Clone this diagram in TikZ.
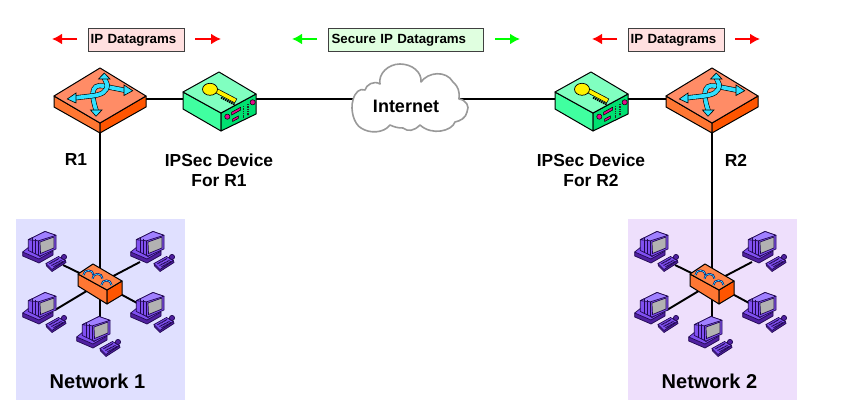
\documentclass[tikz,border=0pt]{standalone}
\usepackage{fontspec}
\setmainfont{Liberation Sans}
\usetikzlibrary{arrows.meta}
\definecolor{routertop}{HTML}{FF8C66}
\definecolor{routerleft}{HTML}{FF7733}
\definecolor{routerright}{HTML}{FF5500}
\definecolor{devtop}{HTML}{80FFC0}
\definecolor{devleft}{HTML}{40FFA0}
\definecolor{devright}{HTML}{00E070}
\definecolor{pcpurple}{HTML}{8050F0}
\definecolor{pcdark}{HTML}{5020A0}
\definecolor{pclight}{HTML}{A080FF}
\definecolor{pcline}{HTML}{200850}
\definecolor{cyanarrow}{HTML}{30E0FF}
\tikzset{
  wire/.style={black,line width=1.9pt},
  face/.style={draw=black,line width=1pt,line join=round},
  pcface/.style={draw=pcline,line width=.7pt,line join=round},
  lbl/.style={font=\bfseries\fontsize{17.4}{20}\selectfont,align=center,inner sep=0pt},
  netlbl/.style={font=\bfseries\fontsize{20}{24}\selectfont,inner sep=0pt},
  tag/.style={font=\bfseries\fontsize{13.3}{16}\selectfont,draw=black!75,line width=1.2pt,inner sep=0pt,anchor=north west},
  redarrow/.style={-{Latex[length=10pt,width=11pt]},line width=2.6pt,red},
  greenarrow/.style={-{Latex[length=10pt,width=11pt]},line width=2.6pt,green},
  pc/.pic={
    % base
    \path[pcface,fill=pcdark] (-.3,21) -- (-.3,25) -- (16,32) -- (30,24) -- (30,20) -- cycle;
    \path[pcface,fill=pcpurple] (-.3,21) -- (6,16) -- (24,15) -- (30,20) -- (16,28) -- cycle;
    % stand
    \path[pcface,fill=pclight] (10,21) -- (17,25.5) -- (26,19.5) -- (26,16) -- (10,17) -- cycle;
    % monitor
    \path[pcface,fill=pcpurple] (5.3,8.7) -- (22,.5) -- (33,4.3) -- (33,18) -- (17,25) -- (5.3,19.5) -- cycle;
    \path[pcface,fill=pclight] (5.3,8.7) -- (22,.5) -- (33,4.3) -- (15.5,9.8) -- cycle;
    \draw[pcline,line width=.7pt] (9.5,6.8) -- (9.5,21.5) (12.5,8.4) -- (12.5,22.8) (15.5,9.8) -- (15.5,24.2);
    \path[draw=pcline,line width=.7pt,fill=black!30] (17,11) -- (31,6) -- (31,17) -- (17.5,22.5) -- cycle;
    % keyboard and mouse
    \path[pcface,fill=pcdark] (23,32.5) -- (23.5,35) -- (29,40.5) -- (43,31.5) -- (42.5,29.5) -- cycle;
    \path[pcface,fill=pcpurple] (23,32.5) -- (35.5,25.5) -- (42.5,29.5) -- (29,38.5) -- cycle;
    \draw[pcline,line width=1.1pt,dash pattern=on 1.2pt off .5pt] (26.5,32.8) -- (36,27.5) (28.5,34.5) -- (38.5,29.3) (30.5,36) -- (40.5,30.2);
    \path[pcface,fill=pcdark] (41,26) circle (2.6);
  },
  routerpic/.pic={
    \path[face,fill=routerleft] (-46,28) -- (-46,39) -- (0,65) -- (0,55) -- cycle;
    \path[face,fill=routerright] (46,28) -- (46,39) -- (0,65) -- (0,55) -- cycle;
    \path[face,fill=routertop] (0,0) -- (46,28) -- (0,55) -- (-46,28) -- cycle;
    % twisted arrows: outline, then cyan body
    \draw[black,line width=5pt] (-3.6,43) .. controls (-6,36) and (-8.5,26) .. (-6,21) .. controls (-4,17) and (0,17) .. (8,19) -- (26,22.5);
    \draw[cyanarrow,line width=3.8pt] (-3.6,43) .. controls (-6,36) and (-8.5,26) .. (-6,21) .. controls (-4,17) and (0,17) .. (8,19) -- (26,22.5);
    \draw[black,line width=5pt] (-26,30) -- (-9,28) .. controls (1,27) and (8,24) .. (7,16) -- (4.3,10);
    \draw[cyanarrow,line width=3.8pt] (-26,30) -- (-9,28) .. controls (1,27) and (8,24) .. (7,16) -- (4.3,10);
    \path[draw=black,line width=.6pt,fill=cyanarrow] (-32.7,31) -- (-24,25) -- (-24,35) -- cycle;
    \path[draw=black,line width=.6pt,fill=cyanarrow] (32.7,22.7) -- (24,17) -- (24,27.5) -- cycle;
    \path[draw=black,line width=.6pt,fill=cyanarrow] (4.3,5) -- (-1.5,11) -- (10,11) -- cycle;
    \path[draw=black,line width=.6pt,fill=cyanarrow] (-4,48.3) -- (-9.5,42) -- (2,42) -- cycle;
  },
  devpic/.pic={
    \path[face,fill=devleft] (-36,20) -- (-36,37) -- (2,59) -- (2,41) -- cycle;
    \path[face,fill=devright] (37,22) -- (37,42) -- (2,59) -- (2,41) -- cycle;
    \path[face,fill=devtop] (0,0) -- (37,22) -- (2,41) -- (-36,20) -- cycle;
    % key
    \draw[black,line width=2pt,dash pattern=on 1.5pt off .8pt] (2,25.5) -- (15.5,32.5);
    \draw[black,line width=5pt] (-4,18) -- (17,29);
    \draw[yellow,line width=3.6pt] (-4,18) -- (16.4,28.7);
    \path[draw=black,line width=.7pt,fill=yellow] (-9,17.3) ellipse (7.5 and 6);
    % panel
    \path[draw=black,line width=.5pt,fill=magenta!90!violet] (8.3,44.7) circle (2.6) (33.7,30.3) circle (2.6);
    \path[draw=black,line width=.5pt,fill=magenta!90!violet] (12.7,40.2) -- (21.7,35.2) -- (21.7,38) -- (12.7,43) -- cycle;
    \path[draw=black,line width=.5pt,fill=magenta!90!violet] (13.7,47) -- (19.3,44) -- (19.3,46.4) -- (13.7,49.4) -- cycle;
    \draw[black!85,line width=1.9pt,dash pattern=on 1.4pt off .9pt] (24.5,34) -- (24.5,46) (29,32) -- (29,43.5);
  },
  swpic/.pic={
    \path[face,fill=routerleft] (-15,10) -- (-15,22) -- (14,40) -- (14,26) -- cycle;
    \path[face,fill=routerright] (29,17) -- (29,31) -- (14,40) -- (14,26) -- cycle;
    \path[face,fill=routerleft!90!white] (0,0) -- (29,17) -- (14,26) -- (-15,10) -- cycle;
    \foreach \ux/\uy in {-4.5/9.5,4.5/13,13.5/19.5}{
      \draw[black!60!blue,line width=1.9pt] (\ux-5,\uy+1.5) .. controls (\ux-5,\uy-4.5) and (\ux+5,\uy-4.5) .. (\ux+5,\uy+1.5);
      \draw[cyanarrow,line width=.7pt] (\ux-5,\uy+1.5) .. controls (\ux-5,\uy-4.5) and (\ux+5,\uy-4.5) .. (\ux+5,\uy+1.5);
    }
  },
}
\newcommand{\lannet}[3]{% prefix, label, panel colour
  \fill[#3] (16,219) rectangle (185,400);
  \coordinate (#1sw) at (100,283);
  \coordinate (#1pca) at (63,265);
  \coordinate (#1pcb) at (140,262);
  \coordinate (#1pcc) at (55,310);
  \coordinate (#1pcd) at (137,303);
  \coordinate (#1pce) at (100,322);
  \foreach \p in {a,b,c,d,e}{\draw[wire] (#1sw) -- (#1pc\p);}
  \pic at (23,231) {pc};
  \pic at (131,231) {pc};
  \pic at (23,292) {pc};
  \pic at (131,292) {pc};
  \pic at (77,316) {pc};
  \node[netlbl] (#1lbl) at (97.5,381) {#2};
}
\begin{document}
\begin{tikzpicture}[x=1pt,y=-1pt]
\useasboundingbox (0,0) rectangle (847,412);
\fill[white] (0,0) rectangle (847,412);
\definecolor{netA}{HTML}{E0E0FF}
\definecolor{netB}{HTML}{EEDFFC}
\begin{scope}
  \lannet{a}{Network 1}{netA}
\end{scope}
\begin{scope}[xshift=612pt]
  \lannet{b}{Network 2}{netB}
\end{scope}
% anchors for the devices
\coordinate (r1) at (100,99);
\coordinate (r1bot) at (100,125);
\coordinate (d1) at (219,99);
\coordinate (d2) at (591,99);
\coordinate (r2) at (712,99);
\coordinate (r2bot) at (712,125);
\coordinate (cl) at (407,99);
\draw[wire] (r1) -- (d1) -- (cl) -- (d2) -- (r2);
\draw[wire] (r1bot) -- (asw);
\draw[wire] (r2bot) -- (bsw);
\pic at (100,68) {routerpic};
\pic at (712,68) {routerpic};
\pic at (219,72) {devpic};
\pic at (591,72) {devpic};
\pic at (93,264) {swpic};
\pic at (705,264) {swpic};
% cloud
\path[draw=black!40,line width=1.6pt,fill=white,line join=round]
 (353,100) .. controls (355,92) and (360,88) .. (365,90)
 .. controls (366,85) and (374,80) .. (380,84)
 .. controls (378,74) and (388,64) .. (400,64)
 .. controls (412,64) and (422,72) .. (421,82)
 .. controls (428,72) and (446,70) .. (453,82)
 .. controls (458,86) and (460,92) .. (459,99)
 .. controls (466,100) and (470,106) .. (467,112)
 .. controls (466,118) and (460,121) .. (455,122)
 .. controls (452,131) and (432,136) .. (420,125)
 .. controls (414,131) and (408,132) .. (403,128)
 .. controls (398,128) and (394,127) .. (390,125)
 .. controls (384,133) and (370,134) .. (361,128)
 .. controls (354,124) and (350,110) .. (353,100) -- cycle;
\node[lbl,font=\bfseries\fontsize{18}{20}\selectfont] (inet) at (406,106) {Internet};
% labels
\node[lbl] (lr1) at (76,160) {R1};
\node[lbl] (lr2) at (736,160) {R2};
\node[lbl] (ld1) at (219,170) {IPSec Device\\For R1};
\node[lbl] (ld2) at (591,170) {IPSec Device\\For R2};
% tags
\node[tag,fill=red!12,minimum width=96pt,minimum height=23pt,text width=92pt] (t1) at (88,28) {\hspace*{0pt}IP Datagrams};
\node[tag,fill=green!12,minimum width=155pt,minimum height=23pt,text width=151pt] (t2) at (328,28) {\hspace*{1pt}Secure IP Datagrams};
\node[tag,fill=red!12,minimum width=96pt,minimum height=23pt,text width=92pt] (t3) at (628,28) {\hspace*{0pt}IP Datagrams};
% arrows
\coordinate (a1) at (77,39); \coordinate (a1t) at (52,39);
\coordinate (a2) at (195,39); \coordinate (a2t) at (221,39);
\coordinate (a3) at (317,39); \coordinate (a3t) at (292,39);
\coordinate (a4) at (495,39); \coordinate (a4t) at (520,39);
\coordinate (a5) at (617,39); \coordinate (a5t) at (592,39);
\coordinate (a6) at (735,39); \coordinate (a6t) at (760,39);
\draw[redarrow] (a1) -- (a1t);
\draw[redarrow] (a2) -- (a2t);
\draw[greenarrow] (a3) -- (a3t);
\draw[greenarrow] (a4) -- (a4t);
\draw[redarrow] (a5) -- (a5t);
\draw[redarrow] (a6) -- (a6t);
\end{tikzpicture}
\end{document}
